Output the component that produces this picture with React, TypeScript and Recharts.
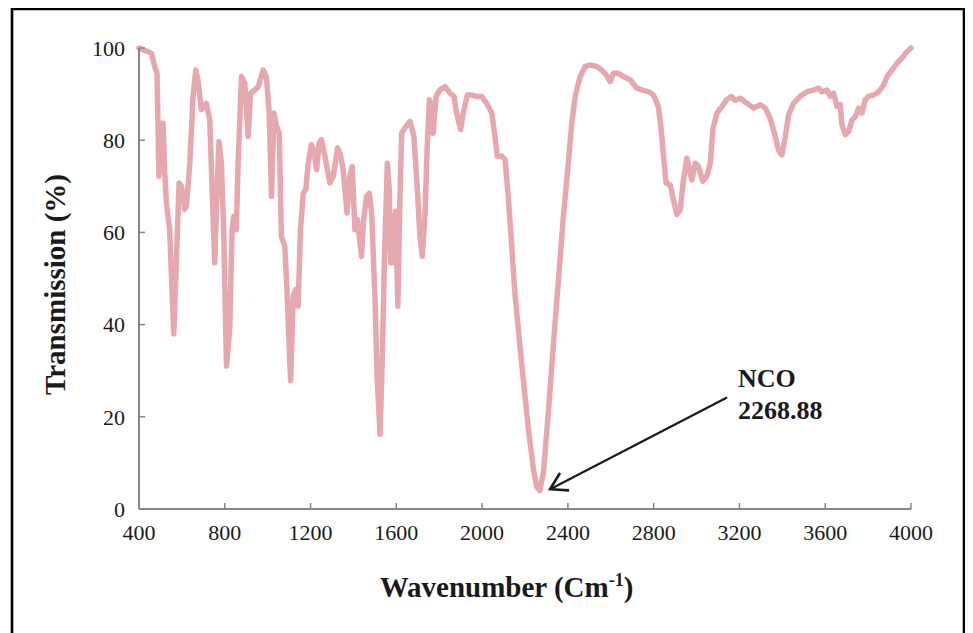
import React from 'react';
import { LineChart, Line, XAxis, YAxis, ReferenceLine } from 'recharts';

// FTIR spectrum: wavenumber (cm-1) and transmission (%)
const wavenumbers: number[] = [
  400, 419, 442, 458, 473, 484, 493, 504, 512, 520, 528, 543, 562, 574, 587, 598, 613, 621, 637, 652,
  665, 675, 691, 702, 714, 730, 742, 753, 764, 773, 784, 795, 808, 823, 834, 842, 854, 862, 878, 893,
  909, 920, 940, 956, 979, 994, 1007, 1018, 1029, 1041, 1054, 1064, 1080, 1091, 1107, 1119, 1131, 1142, 1153, 1166,
  1178, 1189, 1204, 1215, 1228, 1240, 1251, 1267, 1290, 1306, 1326, 1337, 1352, 1370, 1383, 1394, 1407, 1418, 1427, 1438,
  1446, 1461, 1474, 1485, 1500, 1511, 1524, 1534, 1544, 1558, 1567, 1573, 1583, 1590, 1597, 1607, 1617, 1625, 1645, 1664,
  1682, 1698, 1710, 1721, 1734, 1744, 1754, 1765, 1772, 1785, 1803, 1827, 1850, 1869, 1881, 1900, 1912, 1931, 1951, 1975,
  1998, 2021, 2045, 2060, 2071, 2091, 2107, 2122, 2138, 2154, 2169, 2192, 2216, 2239, 2255, 2268.88, 2286, 2309, 2332, 2356,
  2379, 2402, 2418, 2434, 2457, 2480, 2504, 2535, 2558, 2578, 2597, 2612, 2636, 2659, 2690, 2721, 2745, 2776, 2799, 2822,
  2835, 2846, 2858, 2877, 2892, 2908, 2924, 2939, 2955, 2967, 2978, 2994, 3009, 3029, 3048, 3064, 3076, 3095, 3118, 3141,
  3162, 3180, 3204, 3235, 3266, 3297, 3320, 3343, 3367, 3382, 3398, 3414, 3429, 3452, 3483, 3515, 3546, 3569, 3585, 3608,
  3624, 3639, 3655, 3670, 3678, 3694, 3709, 3725, 3740, 3756, 3771, 3787, 3802, 3826, 3849, 3873, 3888, 3911, 3935, 3958,
  3981, 4000,
];

const transmission: number[] = [
  100, 99.6, 99.2, 98.8, 96, 94.5, 72.2, 83.7, 83.7, 72.9, 66.4, 60.6, 38, 53.4, 70.7, 70, 65, 65.7, 75, 89.5,
  95.2, 93.1, 86.6, 87.3, 88, 84.4, 67.8, 53.4, 69.3, 79.7, 75, 60.6, 31, 39, 60.6, 63.5, 60.6, 75, 93.8, 92.4,
  80.8, 90.2, 90.9, 91.6, 95.2, 93.8, 85.9, 67.8, 85.9, 83, 81.5, 59.2, 57, 46.2, 27.8, 46.2, 47.6, 44, 60.6, 68.5,
  69.3, 75, 79, 77.9, 73.6, 79.4, 80.1, 76.5, 70.7, 72.2, 78.3, 77.2, 73.6, 64.2, 72.2, 74.3, 60.6, 62.8, 59.2, 54.8,
  62, 67.8, 68.5, 64.2, 46.2, 28.1, 16.2, 31.7, 53.4, 75, 69.3, 53.4, 63.5, 53.4, 64.6, 44, 67.8, 81.5, 83, 84.1,
  80.8, 69.3, 59.2, 54.8, 64.2, 78.6, 88.8, 87.3, 81.5, 89.5, 90.9, 91.6, 90.2, 89.5, 85.9, 82.3, 85.9, 89.8, 89.8, 89.5,
  89.5, 88, 85.9, 80.8, 76.5, 76.6, 75.8, 67.8, 57, 46.2, 39, 28.1, 17.3, 8.7, 4.8, 4.0, 7.9, 21, 35.4, 49.8,
  63.5, 75, 83.7, 89.5, 93.8, 96, 96.3, 96, 95.2, 94.2, 92.7, 94.5, 94.5, 93.8, 93.1, 91.3, 90.9, 90.5, 89.8, 87.3,
  82.3, 76.5, 70.7, 70.3, 67.1, 63.9, 64.9, 71.4, 76.1, 73.6, 71.4, 75, 74.3, 71.1, 72.2, 75, 82.3, 85.9, 87.3, 88.8,
  89.5, 88.6, 89.1, 88, 87, 87.7, 87, 84.8, 80.8, 77.9, 76.8, 80.8, 85.5, 88, 89.5, 90.5, 90.9, 91.3, 90.5, 90.9,
  89.5, 90.2, 87.3, 87.7, 83.3, 81.2, 81.9, 84.4, 85.1, 86.9, 85.9, 88.8, 89.5, 89.8, 90.5, 92, 93.8, 95.2, 96.7, 97.8,
  99.2, 100,
];

const xTicks: number[] = [400, 800, 1200, 1600, 2000, 2400, 2800, 3200, 3600, 4000];
const yTicks: number[] = [0, 20, 40, 60, 80, 100];

// NCO stretching band annotation
const peakLabel: string[] = ['NCO', '2268.88'];
const arrowTip = { wn: 2317, t: 4.3 };
const arrowTail = { wn: 3142, t: 24.2 };

const data = wavenumbers.map((wn, i) => ({ wn, t: transmission[i] }));

const SERIF = '"Liberation Serif", "Times New Roman", Times, serif';
const AXIS_GREY = '#878787';
const LINE_PINK = '#E6A8AF';

function ArrowAnnotation(props: any) {
  const { x1, y1, x2, y2 } = props;
  // x1,y1 = tail (label side); x2,y2 = tip (at the band)
  const ang = Math.atan2(y1 - y2, x1 - x2);
  const len = 19;
  const spread = (31 * Math.PI) / 180;
  const ax = x2 + len * Math.cos(ang + spread);
  const ay = y2 + len * Math.sin(ang + spread);
  const bx = x2 + len * Math.cos(ang - spread);
  const by = y2 + len * Math.sin(ang - spread);
  return (
    <g>
      <line x1={x1} y1={y1} x2={x2} y2={y2} stroke="#1a1a1a" strokeWidth={2.2} />
      <polyline
        points={`${ax},${ay} ${x2},${y2} ${bx},${by}`}
        fill="none"
        stroke="#1a1a1a"
        strokeWidth={2.6}
        strokeLinejoin="miter"
      />
      <text x={x1 + 11} y={y1 - 10} fontFamily={SERIF} fontWeight="bold" fontSize={26} fill="#1a1a1a">
        {peakLabel[0]}
      </text>
      <text x={x1 + 11} y={y1 + 22} fontFamily={SERIF} fontWeight="bold" fontSize={26} fill="#1a1a1a">
        {peakLabel[1]}
      </text>
    </g>
  );
}

export default function App() {
  const W = 965;
  const H = 625;
  return (
    <div style={{ position: 'relative', width: W, height: H }}>
      <LineChart
        width={W}
        height={H}
        data={data}
        margin={{ top: 40, right: 62, bottom: 64, left: 71 }}
      >
        <XAxis
          dataKey="wn"
          type="number"
          domain={[400, 4000]}
          ticks={xTicks}
          interval={0}
          height={60}
          stroke={AXIS_GREY}
          strokeWidth={2}
          tickSize={-6}
          tickMargin={21}
          tick={{ fill: '#1a1a1a', fontSize: 22, fontFamily: SERIF }}
          tickLine={{ stroke: AXIS_GREY, strokeWidth: 1.5 }}
        />
        <YAxis
          dataKey="t"
          type="number"
          domain={[0, 100]}
          ticks={yTicks}
          interval={0}
          width={60}
          stroke={AXIS_GREY}
          strokeWidth={2}
          tickSize={-6}
          tickMargin={20}
          tick={{ fill: '#1a1a1a', fontSize: 22, fontFamily: SERIF }}
          tickLine={{ stroke: AXIS_GREY, strokeWidth: 1.5 }}
        />
        <Line
          type="linear"
          dataKey="t"
          stroke={LINE_PINK}
          strokeWidth={5.5}
          strokeLinejoin="round"
          strokeLinecap="round"
          dot={false}
          activeDot={false}
          isAnimationActive={false}
        />
        <ReferenceLine
          segment={[
            { x: arrowTail.wn, y: arrowTail.t },
            { x: arrowTip.wn, y: arrowTip.t },
          ]}
          ifOverflow="visible"
          shape={ArrowAnnotation}
        />
      </LineChart>
      <svg
        width={W}
        height={H}
        style={{ position: 'absolute', left: 0, top: 0, pointerEvents: 'none' }}
      >
        <path d={`M4,${H + 10} V1 H956 V${H + 10}`} fill="none" stroke="#000" strokeWidth={2.6} />
        <text
          x={0}
          y={0}
          transform="translate(57,276.5) rotate(-90)"
          textAnchor="middle"
          fontFamily={SERIF}
          fontWeight="bold"
          fontSize={29}
          fill="#1a1a1a"
        >
          Transmission (%)
        </text>
        <text
          x={498.5}
          y={588.7}
          textAnchor="middle"
          fontFamily={SERIF}
          fontWeight="bold"
          fontSize={29}
          fill="#1a1a1a"
        >
          Wavenumber (Cm
          <tspan fontSize={18} dy={-11}>-1</tspan>
          <tspan dy={11}>)</tspan>
        </text>
      </svg>
    </div>
  );
}
